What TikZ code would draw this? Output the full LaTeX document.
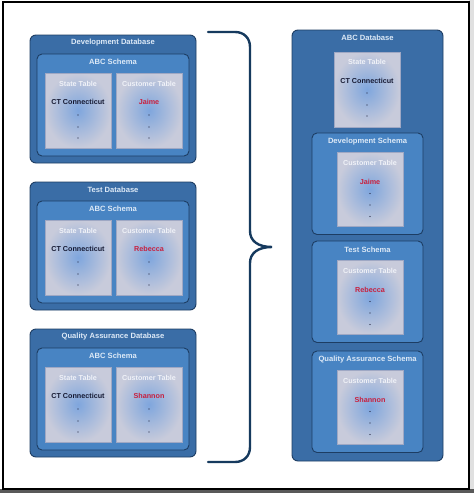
\documentclass[tikz,border=0pt]{standalone}
\usepackage{fontspec}
\setmainfont{Liberation Sans}
\definecolor{dbfill}{HTML}{3A6DA6}
\definecolor{schfill}{HTML}{4884C3}
\definecolor{edge}{HTML}{1D3D63}
\definecolor{tabout}{HTML}{C8CBDB}
\definecolor{tabin}{HTML}{7FA6DD}
\definecolor{tabedge}{HTML}{9FA8C4}
\definecolor{titlecol}{HTML}{DCE9F7}
\definecolor{headcol}{HTML}{F0F2F8}
\definecolor{valcol}{HTML}{161A33}
\definecolor{namecol}{HTML}{C8203E}
\definecolor{bracecol}{HTML}{163A5E}
\tikzset{
  dbbox/.style={draw=edge, line width=0.9pt, fill=dbfill, rounded corners=6pt},
  schbox/.style={draw=edge, line width=0.9pt, fill=schfill, rounded corners=5pt},
  tabbox/.style={draw=tabedge, line width=0.8pt, inner color=tabin, outer color=tabout},
  titletext/.style={font=\bfseries\fontsize{7.6}{9}\selectfont, text=titlecol, inner sep=0pt},
  headtext/.style={font=\bfseries\fontsize{7.2}{9}\selectfont, text=headcol, inner sep=0pt},
  valtext/.style={font=\bfseries\fontsize{7.2}{9}\selectfont, text=valcol, inner sep=0pt},
  nametext/.style={font=\bfseries\fontsize{7.2}{9}\selectfont, text=namecol, inner sep=0pt},
  dot/.style={circle, fill=valcol, inner sep=0pt, minimum size=1.3pt},
}
\begin{document}
\begin{tikzpicture}[x=1pt,y=-1pt]
\useasboundingbox (0,0) rectangle (474,493);
\fill[white] (0,0) rectangle (474,493);
\fill[black!12] (469,0) rectangle (474,493);
\fill[black!65] (0,489) rectangle (474,493);
\draw[black, line width=1.8pt] (3,2) rectangle (469,489);

% ---------- left column ----------
\foreach \t/\dbname/\who/\id in {35/Development Database/Jaime/dev, 182/Test Database/Rebecca/test, 329/Quality Assurance Database/Shannon/qa}{
  \path[dbbox] (30,\t) rectangle (196,\t+128);
  \node[titletext] (\id-title) at (113,\t+8) {\dbname};
  \path[schbox] (37,\t+19) rectangle (189,\t+121);
  \node[titletext] (\id-sch) at (113,\t+27) {ABC Schema};
  \path[tabbox] (45,\t+38) rectangle (111,\t+113);
  \path[tabbox] (116,\t+38) rectangle (182,\t+113);
  \node[headtext] (\id-sth) at (78,\t+49) {State Table};
  \node[headtext] (\id-cth) at (149,\t+49) {Customer Table};
  \node[valtext] (\id-stv) at (78,\t+67) {CT Connecticut};
  \node[nametext] (\id-ctv) at (149,\t+67) {\who};
  \foreach \d in {80,92,103}{
    \node[dot] at (78,\t+\d) {};
    \node[dot] at (149,\t+\d) {};
  }
}

% ---------- brace ----------
\draw[bracecol, line width=2.4pt, line cap=round]
  (208,32) -- (235,32) .. controls (244,32) and (250,38) .. (250,47)
  -- (250,231) .. controls (250,241) and (258,247) .. (272,247)
  .. controls (258,247) and (250,253) .. (250,263)
  -- (250,447) .. controls (250,456) and (244,462) .. (235,462) -- (208,462);

% ---------- right column ----------
\path[dbbox] (292,30) rectangle (443,461);
\node[titletext] (abc-title) at (367.5,38) {ABC Database};
\path[tabbox] (334,52) rectangle (400,127);
\node[headtext] (abc-sth) at (367,62) {State Table};
\node[valtext] (abc-stv) at (367,81) {CT Connecticut};
\foreach \d in {93,105,116}{ \node[dot] at (367,\d) {}; }

\foreach \t/\sname/\who/\id in {133/Development Schema/Jaime/rdev, 241/Test Schema/Rebecca/rtest, 351/Quality Assurance Schema/Shannon/rqa}{
  \path[schbox] (312,\t) rectangle (423,\t+101.5);
  \node[titletext] (\id-title) at (367.5,\t+8.5) {\sname};
  \path[tabbox] (337,\t+19.5) rectangle (403,\t+93.5);
  \node[headtext] (\id-cth) at (370,\t+30) {Customer Table};
  \node[nametext] (\id-ctv) at (370,\t+48.5) {\who};
  \foreach \d in {60.5,72,83.5}{ \node[dot] at (370,\t+\d) {}; }
}
\end{tikzpicture}
\end{document}
